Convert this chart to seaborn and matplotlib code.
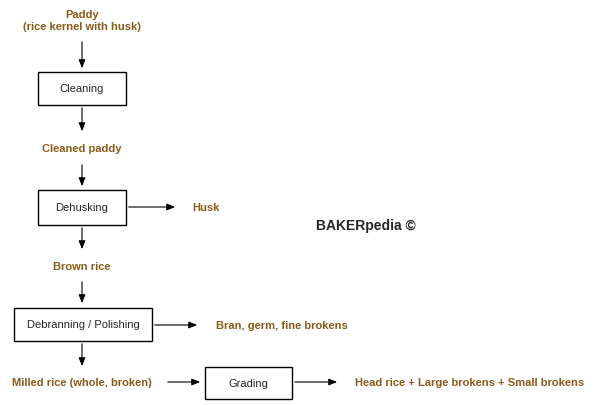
import matplotlib
matplotlib.use("Agg")
import matplotlib.pyplot as plt
import seaborn as sns
from matplotlib.patches import Rectangle

sns.set_style("white")
plt.rcParams['font.family'] = ['Liberation Sans', 'DejaVu Sans']

brown = "#8a5a19"

# flow steps (process boxes) and the products between them
box_labels = ["Cleaning", "Dehusking", "Debranning / Polishing", "Grading"]
product_labels = ["Paddy\n(rice kernel with husk)", "Cleaned paddy", "Brown rice",
                  "Milled rice (whole, broken)"]
side_labels = ["Husk", "Bran, germ, fine brokens",
               "Head rice + Large brokens + Small brokens"]

# layout (pixel coordinates)
boxes = [(38, 73, 88, 33), (38, 191, 88, 35), (14, 309, 138, 33), (205, 368, 87, 32)]
product_pos = [(82, 21), (82, 149), (82, 267), (82, 383)]
side_pos = [(192, 208), (216, 326), (355, 383)]
down_arrows = [(40, 72), (106, 135), (163, 190), (226, 253), (280, 307), (342, 370)]
right_arrows = [(126, 178, 208), (152, 200, 326), (165, 203, 383), (292, 340, 383)]

fig = plt.figure(figsize=(6, 4.06), dpi=100)
ax = fig.add_axes([0, 0, 1, 1])
ax.set_xlim(0, 600)
ax.set_ylim(406, 0)
ax.axis("off")

for (x, y, w, h), lab in zip(boxes, box_labels):
    ax.add_patch(Rectangle((x, y), w, h, fill=False, edgecolor="black", lw=1))
    ax.text(x + w / 2, y + h / 2, lab, ha="center", va="center", fontsize=8)

for (x, y), lab in zip(product_pos, product_labels):
    ax.text(x, y, lab, ha="center", va="center", fontsize=8, color=brown,
            fontweight="bold", linespacing=1.3)

for (x, y), lab in zip(side_pos, side_labels):
    ax.text(x, y, lab, ha="left", va="center", fontsize=8, color=brown, fontweight="bold")

arrow = dict(arrowstyle="-|>,head_length=0.5,head_width=0.2", color="black", lw=0.8)
for y0, y1 in down_arrows:
    ax.annotate("", xy=(82, y1), xytext=(82, y0), arrowprops=arrow)
for x0, x1, y in right_arrows:
    ax.annotate("", xy=(x1, y), xytext=(x0, y), arrowprops=arrow)

ax.text(366, 226, "BAKERpedia ©", ha="center", va="center", fontsize=10, fontweight="bold")

fig.savefig("out.png", dpi=100)
